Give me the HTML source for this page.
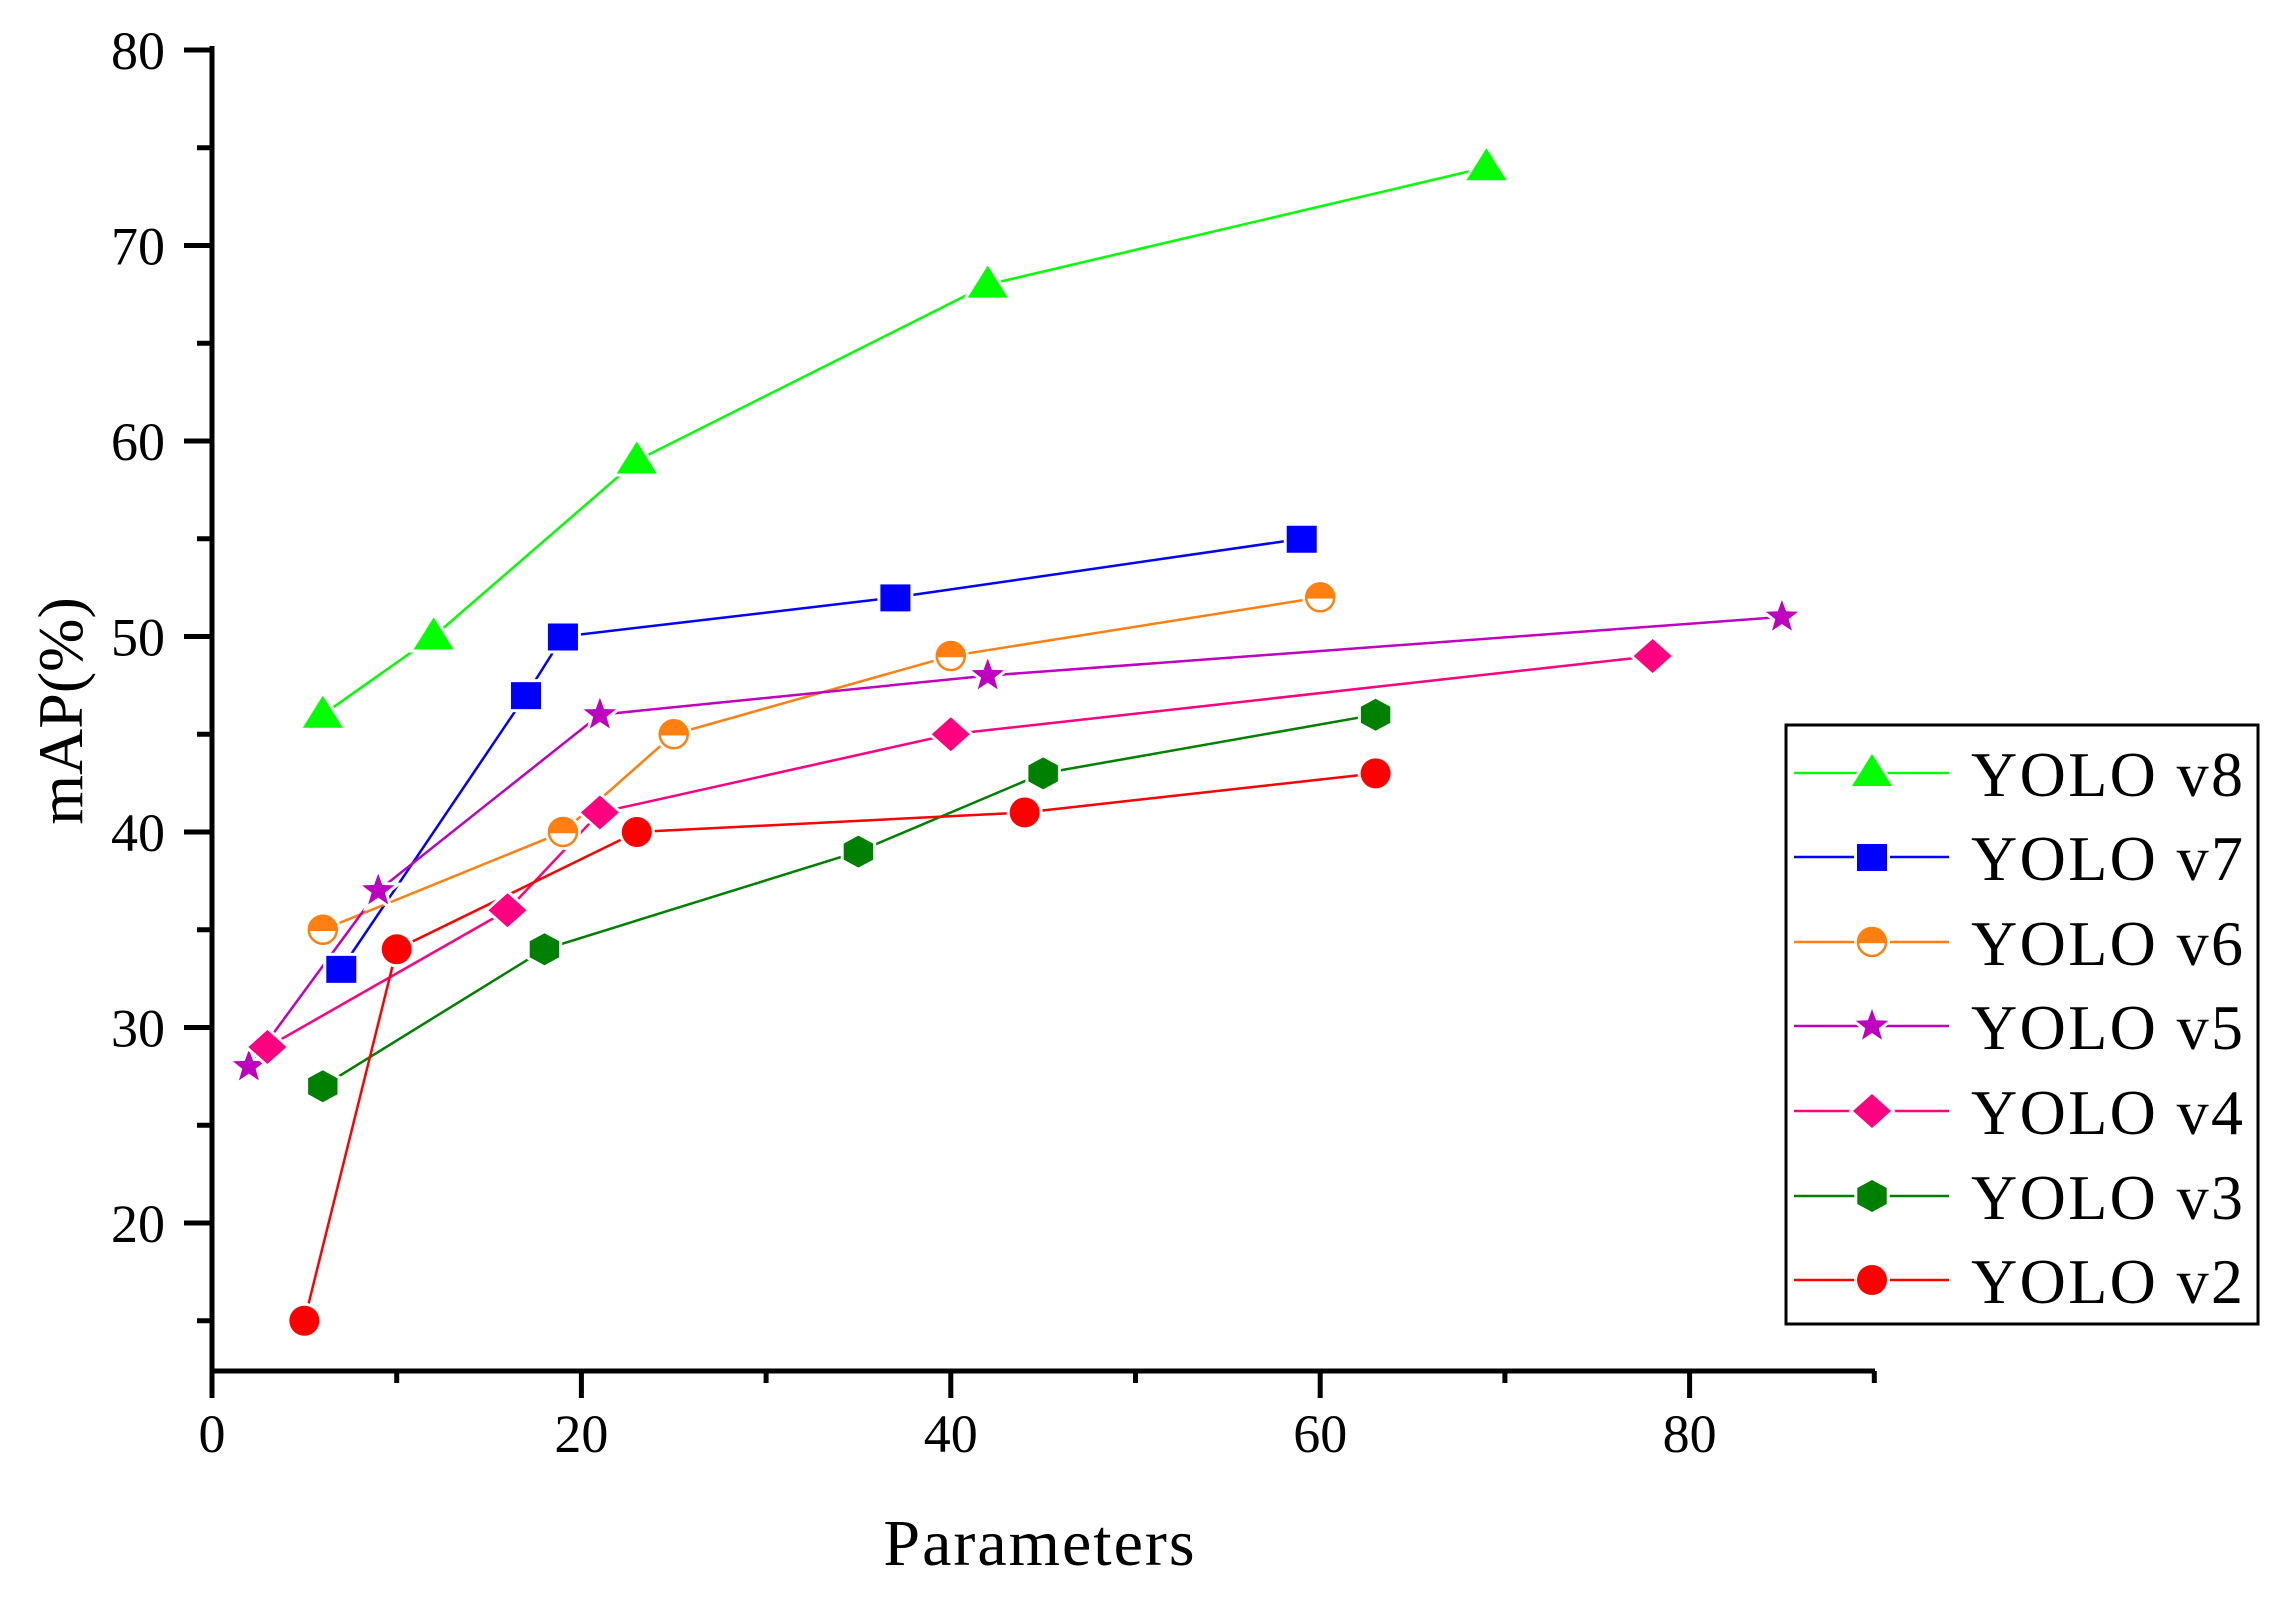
<!DOCTYPE html>
<html><head><meta charset="utf-8"><style>html,body{margin:0;padding:0;background:#fff}svg{display:block}text{font-family:"Liberation Serif",serif;fill:#000}</style></head>
<body>
<svg id="s" width="2286" height="1605" viewBox="0 0 2286 1605" xmlns="http://www.w3.org/2000/svg"></svg>
<script>
const s=document.getElementById('s');
const X=v=>212+v*18.47, Y=v=>50+(80-v)*19.55;
let h='';
h+='<line x1="212" y1="46" x2="212" y2="1398" stroke="#000" stroke-width="5"/>';
h+='<line x1="210" y1="1371" x2="1875" y2="1371" stroke="#000" stroke-width="5"/>';
for(let v=15;v<=80;v+=5){const y=Y(v);const maj=v%10==0;h+=`<line x1="${maj?184:197}" y1="${y}" x2="212" y2="${y}" stroke="#000" stroke-width="5"/>`;
 if(maj)h+=`<text x="165" y="${y+19}" font-size="54" text-anchor="end">${v}</text>`;}
for(let v=0;v<=90;v+=10){const x=X(v);const maj=v%20==0;h+=`<line x1="${x}" y1="1371" x2="${x}" y2="${maj?1398:1383}" stroke="#000" stroke-width="5"/>`;
 if(maj&&v<=80)h+=`<text x="${x}" y="1452" font-size="54" text-anchor="middle">${v}</text>`;}
h+='<text x="1040" y="1565" font-size="66" text-anchor="middle" letter-spacing="2">Parameters</text>';
h+='<text transform="translate(82,711) rotate(-90)" font-size="64" text-anchor="middle">mAP(%)</text>';
const S=[
['YOLO v8','#00ff00','tri',[[6,46],[12,50],[23,59],[42,68],[69,74]]],
['YOLO v7','#0000ff','sq',[[7,33],[17,47],[19,50],[37,52],[59,55]]],
['YOLO v6','#ff8010','half',[[6,35],[19,40],[25,45],[40,49],[60,52]]],
['YOLO v5','#bf00bf','star',[[2,28],[9,37],[21,46],[42,48],[85,51]]],
['YOLO v4','#ff0080','dia',[[3,29],[16,36],[21,41],[40,45],[78,49]]],
['YOLO v3','#008000','hex',[[6,27],[18,34],[35,39],[45,43],[63,46]]],
['YOLO v2','#ff0000','circ',[[5,15],[10,34],[23,40],[44,41],[63,43]]]];
function mk(t,c,x,y){const w='stroke="#fff" stroke-width="6" paint-order="stroke"';
 switch(t){
 case 'tri':return `<polygon points="${x},${y-19} ${x+20},${y+13} ${x-20},${y+13}" fill="${c}" ${w}/>`;
 case 'sq':return `<rect x="${x-15}" y="${y-13}" width="30" height="27" fill="${c}" ${w}/>`;
 case 'half':return `<circle cx="${x}" cy="${y}" r="14" fill="#fff" stroke="#fff" stroke-width="8"/><path d="M${x-15},${y} A15,15 0 0 1 ${x+15},${y} Z" fill="${c}"/><circle cx="${x}" cy="${y}" r="14" fill="none" stroke="${c}" stroke-width="2.5"/><line x1="${x-15}" y1="${y}" x2="${x+15}" y2="${y}" stroke="${c}" stroke-width="2.5"/>`;
 case 'star':{let p=[];for(let i=0;i<10;i++){const a=-Math.PI/2+i*Math.PI/5;const rr=i%2?7:17;p.push((x+rr*Math.cos(a)).toFixed(1)+','+(y+rr*Math.sin(a)).toFixed(1));}return `<polygon points="${p.join(' ')}" fill="${c}" ${w}/>`;}
 case 'dia':return `<polygon points="${x},${y-17} ${x+19},${y} ${x},${y+17} ${x-19},${y}" fill="${c}" ${w}/>`;
 case 'hex':{let p=[];for(let i=0;i<6;i++){const a=-Math.PI/2+i*Math.PI/3;p.push((x+17*Math.cos(a)).toFixed(1)+','+(y+16*Math.sin(a)).toFixed(1));}return `<polygon points="${p.join(' ')}" fill="${c}" ${w}/>`;}
 case 'circ':return `<circle cx="${x}" cy="${y}" r="15" fill="${c}" ${w}/>`;}}
for(const [n,c,t,d] of S){h+=`<polyline points="${d.map(p=>X(p[0])+','+Y(p[1])).join(' ')}" fill="none" stroke="${c}" stroke-width="2.5"/>`;}
for(const [n,c,t,d] of S){for(const p of d)h+=mk(t,c,X(p[0]),Y(p[1]));}
h+='<rect x="1786" y="725" width="472" height="599" fill="#fff" stroke="#000" stroke-width="3"/>';
const ly=[773,857,942,1026,1111,1196,1280];
S.forEach(([n,c,t],i)=>{const y=ly[i];h+=`<line x1="1794" y1="${y}" x2="1949" y2="${y}" stroke="${c}" stroke-width="2.5"/>`+mk(t,c,1872,y);
 h+=`<text x="1971" y="${y+23}" font-size="64" textLength="272" lengthAdjust="spacing">${n}</text>`;});
s.innerHTML=h;
</script>
</body></html>
